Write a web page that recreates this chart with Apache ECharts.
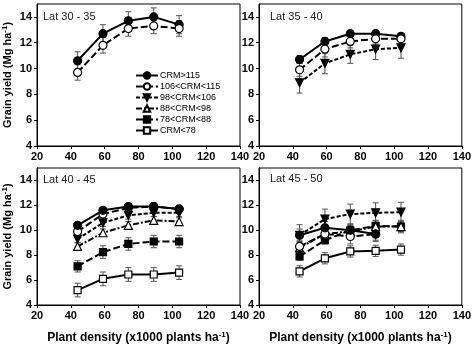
<!DOCTYPE html>
<html>
<head>
<meta charset="utf-8">
<script src="https://cdn.jsdelivr.net/npm/echarts@6/dist/echarts.min.js"></script>
<style>html,body{margin:0;padding:0;background:#fff}#c{width:474px;height:345px}</style>
</head>
<body>
<div id="c"></div>
<script>
// ---- data ----
const density = [44, 59, 74, 89, 104];
const groups = ['CRM>115', '106<CRM<115', '98<CRM<106', '88<CRM<98', '78<CRM<88', 'CRM<78'];
const xTicks = [20, 40, 60, 80, 100, 120, 140];
const yTicks = [4, 6, 8, 10, 12, 14];
const panelTitles = ['Lat 30 - 35', 'Lat 35 - 40', 'Lat 40 - 45', 'Lat 45 - 50'];

// Lat 30-35
const lat30_crm115 = [10.6, 12.7, 13.7, 14.0, 13.4];
const lat30_crm115_err = [0.7, 0.7, 0.7, 0.7, 0.7];
const lat30_crm106 = [9.7, 11.8, 13.1, 13.3, 13.1];
const lat30_crm106_err = [0.6, 0.6, 0.6, 0.6, 0.6];

// Lat 35-40
const lat35_crm115 = [10.7, 12.1, 12.7, 12.7, 12.5];
const lat35_crm115_err = [0.3, 0.3, 0.2, 0.2, 0.2];
const lat35_crm106 = [9.9, 11.5, 12.1, 12.3, 12.3];
const lat35_crm106_err = [0.5, 0.6, 0.5, 0.4, 0.4];
const lat35_crm98 = [8.9, 10.4, 11.1, 11.5, 11.6];
const lat35_crm98_err = [0.8, 0.8, 0.7, 0.8, 0.8];

// Lat 40-45
const lat40_crm115 = [10.4, 11.6, 11.9, 11.9, 11.7];
const lat40_crm115_err = [0.2, 0.2, 0.2, 0.2, 0.2];
const lat40_crm106 = [9.9, 11.3, 11.8, 11.9, 11.7];
const lat40_crm106_err = [0.3, 0.3, 0.3, 0.3, 0.3];
const lat40_crm98 = [9.3, 10.6, 11.2, 11.4, 11.4];
const lat40_crm98_err = [0.3, 0.3, 0.3, 0.3, 0.3];
const lat40_crm88 = [8.7, 9.8, 10.4, 10.8, 10.7];
const lat40_crm88_err = [0.3, 0.3, 0.3, 0.3, 0.3];
const lat40_crm78 = [7.1, 8.25, 8.9, 9.1, 9.1];
const lat40_crm78_err = [0.45, 0.5, 0.5, 0.5, 0.5];
const lat40_crmlow = [5.2, 6.1, 6.45, 6.45, 6.6];
const lat40_crmlow_err = [0.55, 0.55, 0.55, 0.55, 0.55];

// Lat 45-50
const lat45_crm115 = [9.6, 10.2, 10.0, 9.7, null];
const lat45_crm115_err = [0.5, 0.5, 0.5, 0.5, 0];
const lat45_crm106 = [8.7, 9.7, 9.5, 9.7, null];
const lat45_crm106_err = [0.5, 0.5, 0.6, 0.6, 0];
const lat45_crm98 = [9.6, 10.9, 11.3, 11.4, 11.45];
const lat45_crm98_err = [0.85, 0.8, 0.8, 0.8, 0.8];
const lat45_crm88 = [8.6, 9.7, 9.9, 10.3, 10.3];
const lat45_crm88_err = [0.4, 0.4, 0.5, 0.5, 0.5];
const lat45_crm78 = [7.9, 9.2, 10.0, 10.35, 10.3];
const lat45_crm78_err = [0.3, 0.3, 0.4, 0.4, 0.4];
const lat45_crmlow = [6.7, 7.75, 8.3, 8.35, 8.45];
const lat45_crmlow_err = [0.45, 0.45, 0.45, 0.45, 0.45];

// ---- styles per group ----
const styles = {
  'CRM>115':     { symbol: 'circle',   size: 8, fill: '#000', dash: 'solid' },
  '106<CRM<115': { symbol: 'circle',   size: 8, fill: '#fff', dash: [7, 3] },
  '98<CRM<106':  { symbol: 'path://M0,0 L10,0 L5,9 Z', size: 8, fill: '#000', dash: [4, 2] },
  '88<CRM<98':   { symbol: 'triangle', size: 8, fill: '#fff', dash: [6, 2, 2, 2] },
  '78<CRM<88':   { symbol: 'rect',     size: 7, fill: '#000', dash: [7, 3] },
  'CRM<78':      { symbol: 'rect',     size: 7, fill: '#fff', dash: 'solid' }
};

const panels = [
  [[groups[0], lat30_crm115, lat30_crm115_err], [groups[1], lat30_crm106, lat30_crm106_err]],
  [[groups[0], lat35_crm115, lat35_crm115_err], [groups[1], lat35_crm106, lat35_crm106_err], [groups[2], lat35_crm98, lat35_crm98_err]],
  [[groups[5], lat40_crmlow, lat40_crmlow_err], [groups[4], lat40_crm78, lat40_crm78_err], [groups[3], lat40_crm88, lat40_crm88_err], [groups[2], lat40_crm98, lat40_crm98_err], [groups[1], lat40_crm106, lat40_crm106_err], [groups[0], lat40_crm115, lat40_crm115_err]],
  [[groups[5], lat45_crmlow, lat45_crmlow_err], [groups[4], lat45_crm78, lat45_crm78_err], [groups[3], lat45_crm88, lat45_crm88_err], [groups[1], lat45_crm106, lat45_crm106_err], [groups[0], lat45_crm115, lat45_crm115_err], [groups[2], lat45_crm98, lat45_crm98_err]]
];

const grids = [
  { left: 36, top: 4, width: 204, height: 142 },
  { left: 259, top: 4, width: 204, height: 142 },
  { left: 36, top: 168, width: 204, height: 141 },
  { left: 259, top: 168, width: 204, height: 141 }
];
const titlePos = [[43, 11], [270, 11], [43, 174], [270, 173]];

const FONT = 'Liberation Sans, Arial, sans-serif';

const xAxes = grids.map((g, i) => ({
  type: 'value', gridIndex: i, min: xTicks[0], max: xTicks[xTicks.length - 1], interval: 20,
  axisLine: { show: true, lineStyle: { color: '#000', width: 1 } },
  axisTick: { show: true, length: 3, lineStyle: { color: '#000' } },
  splitLine: { show: false },
  axisLabel: { color: '#000', fontWeight: 'bold', fontSize: 11, fontFamily: FONT, margin: 5 },
  name: i >= 2 ? '{a|Plant density (x1000 plants ha}{s|-1}{a|)}' : '',
  nameLocation: 'middle', nameGap: 26,
  nameTextStyle: { rich: {
    a: { fontWeight: 'bold', fontSize: 12, fontFamily: FONT, color: '#000' },
    s: { fontWeight: 'bold', fontSize: 8, fontFamily: FONT, color: '#000', verticalAlign: 'top', padding: [0, 0, 6, 0] }
  } }
}));
const yAxes = grids.map((g, i) => ({
  type: 'value', gridIndex: i, min: 4, max: 15, interval: 2,
  axisLine: { show: true, lineStyle: { color: '#000', width: 1 } },
  axisTick: { show: true, length: 3, lineStyle: { color: '#000' } },
  splitLine: { show: false },
  axisLabel: { color: '#000', fontWeight: 'bold', fontSize: 11, fontFamily: FONT, margin: 5, showMaxLabel: false,
    formatter: v => (yTicks.indexOf(v) >= 0 ? String(v) : '') },
  name: (i % 2 === 0) ? '{a|Grain yield (Mg ha}{s|-1}{a|)}' : '',
  nameLocation: 'middle', nameGap: 22, nameRotate: 90,
  nameTextStyle: { rich: {
    a: { fontWeight: 'bold', fontSize: 11, fontFamily: FONT, color: '#000' },
    s: { fontWeight: 'bold', fontSize: 8, fontFamily: FONT, color: '#000', verticalAlign: 'top', padding: [0, 0, 6, 0] }
  } }
}));

const series = [];
panels.forEach((plist, pi) => {
  plist.forEach(([name, ys, errs]) => {
    const st = styles[name];
    const pts = [];
    const eb = [];
    density.forEach((x, k) => {
      if (ys[k] != null) {
        pts.push([x, ys[k]]);
        eb.push([x, ys[k] - errs[k], ys[k] + errs[k]]);
      }
    });
    series.push({
      type: 'line', name: name, xAxisIndex: pi, yAxisIndex: pi, z: 3,
      data: pts, symbol: st.symbol, symbolSize: st.size,
      showAllSymbol: true, animation: false,
      lineStyle: { color: '#000', width: 2, type: st.dash },
      itemStyle: { color: st.fill, borderColor: '#000', borderWidth: 1.2 }
    });
    series.push({
      type: 'custom', name: name + ' (error)', xAxisIndex: pi, yAxisIndex: pi, z: 1, silent: true,
      data: eb, encode: { x: 0, y: [1, 2] },
      renderItem: (params, api) => {
        const x = api.value(0);
        const lo = api.coord([x, api.value(1)]);
        const hi = api.coord([x, api.value(2)]);
        const w = 3;
        const s = { stroke: '#555', lineWidth: 1 };
        return { type: 'group', children: [
          { type: 'line', shape: { x1: lo[0], y1: lo[1], x2: hi[0], y2: hi[1] }, style: s },
          { type: 'line', shape: { x1: hi[0] - w, y1: hi[1], x2: hi[0] + w, y2: hi[1] }, style: s },
          { type: 'line', shape: { x1: lo[0] - w, y1: lo[1], x2: lo[0] + w, y2: lo[1] }, style: s }
        ] };
      }
    });
  });
});

const option = {
  animation: false,
  backgroundColor: '#fff',
  grid: grids.map(g => Object.assign({ show: true, borderColor: '#000', borderWidth: 1, backgroundColor: 'transparent' }, g)),
  xAxis: xAxes,
  yAxis: yAxes,
  title: panelTitles.map((t, i) => ({
    text: t, left: titlePos[i][0], top: titlePos[i][1], padding: 0,
    textStyle: { fontSize: 11, fontWeight: 'normal', fontFamily: FONT, color: '#222' }
  })),
  legend: {
    data: groups.map(g => ({ name: g })),
    orient: 'vertical', left: 135, top: 71, itemGap: 2, itemWidth: 22, itemHeight: 8,
    padding: 0,
    textStyle: { fontSize: 9, fontFamily: FONT, color: '#000', padding: [0, 0, 0, -3] },
    selectedMode: false
  },
  series: series
};

const chart = echarts.init(document.getElementById('c'), null, { renderer: 'canvas' });
chart.setOption(option);
</script>
</body>
</html>
